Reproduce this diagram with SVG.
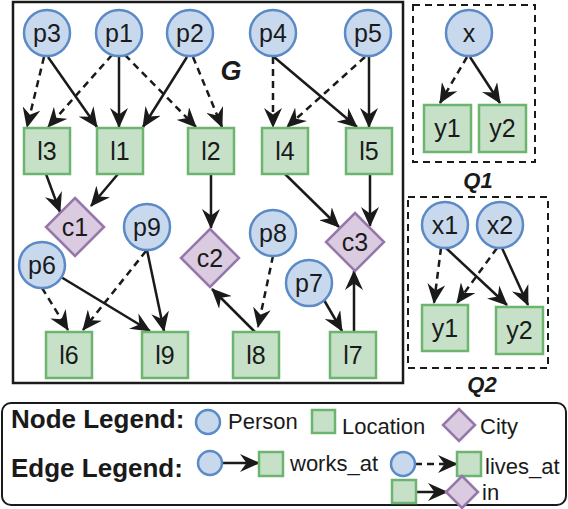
<svg xmlns="http://www.w3.org/2000/svg" width="568" height="509" viewBox="0 0 568 509">
<style>
.per{fill:#c8d9ee;stroke:#5b8ac6;stroke-width:2.5}
.loc{fill:#c6e1c8;stroke:#6db56f;stroke-width:2.5}
.city{fill:#dacbe0;stroke:#9677aa;stroke-width:2.5}
.lbl{font-family:"Liberation Sans",Arial,Helvetica,sans-serif;font-size:25px;fill:#1a1a1a;text-anchor:middle}
.ttl{font-family:"Liberation Sans",Arial,Helvetica,sans-serif;font-weight:bold;font-style:italic;fill:#1a1a1a;text-anchor:middle}
.leg{font-family:"Liberation Sans",Arial,Helvetica,sans-serif;font-size:22px;fill:#1a1a1a}
.legb{font-family:"Liberation Sans",Arial,Helvetica,sans-serif;font-size:26px;font-weight:bold;fill:#1a1a1a}
.s{stroke:#1a1a1a;stroke-width:2.5;fill:none;marker-end:url(#ah)}
.d{stroke:#1a1a1a;stroke-width:2.5;fill:none;stroke-dasharray:7 5;marker-end:url(#ah)}
.box{fill:none;stroke:#1a1a1a;stroke-width:2.5}
.qbox{fill:none;stroke:#1a1a1a;stroke-width:2;stroke-dasharray:7 5}
</style>
<defs>
<marker id="ah" viewBox="0 0 20 18" markerWidth="20" markerHeight="18" refX="19" refY="9" orient="auto" markerUnits="userSpaceOnUse">
<path d="M0,0 L20,9 L0,18 L6.5,9 Z" fill="#1a1a1a"/>
</marker>
</defs>
<rect width="568" height="509" fill="#ffffff"/>

<!-- frames -->
<rect class="box" x="13" y="2" width="390" height="381"/>
<text class="ttl" x="231" y="80" font-size="27">G</text>
<rect class="qbox" x="413" y="5" width="122" height="157"/>
<text class="ttl" x="478" y="188" font-size="22">Q1</text>
<rect class="qbox" x="408" y="197" width="140" height="171"/>
<text class="ttl" x="482" y="392" font-size="22">Q2</text>

<g id="connectors">
<line class="d" x1="44" y1="57" x2="27" y2="127"/>
<line class="s" x1="48" y1="57" x2="97" y2="127"/>
<line class="d" x1="112" y1="55" x2="48" y2="127"/>
<line class="s" x1="119" y1="57" x2="119" y2="127"/>
<line class="d" x1="125" y1="55" x2="196" y2="127"/>
<line class="s" x1="187" y1="57" x2="143" y2="127"/>
<line class="d" x1="193" y1="57" x2="222" y2="127"/>
<line class="d" x1="273" y1="57" x2="273" y2="127"/>
<line class="s" x1="274" y1="57" x2="357" y2="127"/>
<line class="d" x1="365" y1="57" x2="287" y2="127"/>
<line class="s" x1="369" y1="57" x2="369" y2="127"/>
<line class="s" x1="46" y1="174" x2="60" y2="212"/>
<line class="s" x1="118" y1="174" x2="91" y2="206"/>
<line class="s" x1="211" y1="174" x2="211" y2="228"/>
<line class="s" x1="285" y1="174" x2="339" y2="227"/>
<line class="s" x1="370" y1="174" x2="370" y2="226"/>
<line class="d" x1="42" y1="288" x2="68" y2="330"/>
<line class="s" x1="61" y1="277" x2="150" y2="331"/>
<line class="d" x1="146" y1="251" x2="83" y2="330"/>
<line class="s" x1="147" y1="250" x2="164" y2="331"/>
<line class="d" x1="273" y1="256" x2="258" y2="327"/>
<line class="s" x1="255" y1="332" x2="212" y2="289"/>
<line class="s" x1="324" y1="300" x2="342" y2="331"/>
<line class="s" x1="354" y1="332" x2="354" y2="271"/>
<line class="d" x1="467" y1="57" x2="440" y2="103"/>
<line class="s" x1="470" y1="57" x2="500" y2="103"/>
<line class="d" x1="441" y1="248" x2="434" y2="303"/>
<line class="s" x1="446" y1="248" x2="507" y2="305"/>
<line class="d" x1="497" y1="248" x2="457" y2="303"/>
<line class="s" x1="502" y1="248" x2="528" y2="305"/>
</g>

<!-- persons -->
<g id="p3"><circle class="per" cx="47" cy="33" r="23"/><text class="lbl" x="47" y="42">p3</text></g>
<g id="p1"><circle class="per" cx="119" cy="33" r="23"/><text class="lbl" x="119" y="42">p1</text></g>
<g id="p2"><circle class="per" cx="190" cy="33" r="23"/><text class="lbl" x="190" y="42">p2</text></g>
<g id="p4"><circle class="per" cx="273" cy="33" r="23"/><text class="lbl" x="273" y="42">p4</text></g>
<g id="p5"><circle class="per" cx="368" cy="33" r="23"/><text class="lbl" x="368" y="42">p5</text></g>
<g id="p9"><circle class="per" cx="147" cy="227" r="23"/><text class="lbl" x="147" y="236">p9</text></g>
<g id="p6"><circle class="per" cx="42" cy="265" r="23"/><text class="lbl" x="42" y="274">p6</text></g>
<g id="p8"><circle class="per" cx="273" cy="233" r="23"/><text class="lbl" x="273" y="242">p8</text></g>
<g id="p7"><circle class="per" cx="309" cy="283" r="23"/><text class="lbl" x="309" y="292">p7</text></g>

<!-- locations -->
<g id="l3"><rect class="loc" x="24" y="128" width="46" height="46"/><text class="lbl" x="47" y="160">l3</text></g>
<g id="l1"><rect class="loc" x="97" y="128" width="46" height="46"/><text class="lbl" x="120" y="160">l1</text></g>
<g id="l2"><rect class="loc" x="188" y="128" width="46" height="46"/><text class="lbl" x="211" y="160">l2</text></g>
<g id="l4"><rect class="loc" x="262" y="128" width="46" height="46"/><text class="lbl" x="285" y="160">l4</text></g>
<g id="l5"><rect class="loc" x="346" y="128" width="46" height="46"/><text class="lbl" x="369" y="160">l5</text></g>
<g id="l6"><rect class="loc" x="46" y="332" width="46" height="46"/><text class="lbl" x="69" y="364">l6</text></g>
<g id="l9"><rect class="loc" x="142" y="332" width="46" height="46"/><text class="lbl" x="165" y="364">l9</text></g>
<g id="l8"><rect class="loc" x="233" y="332" width="46" height="46"/><text class="lbl" x="256" y="364">l8</text></g>
<g id="l7"><rect class="loc" x="330" y="332" width="46" height="46"/><text class="lbl" x="353" y="364">l7</text></g>

<!-- cities -->
<g id="c1"><polygon class="city" points="75,198 104,227 75,256 46,227"/><text class="lbl" x="75" y="236">c1</text></g>
<g id="c2"><polygon class="city" points="210,229 239,258 210,287 181,258"/><text class="lbl" x="210" y="267">c2</text></g>
<g id="c3"><polygon class="city" points="355,213 384,242 355,271 326,242"/><text class="lbl" x="355" y="251">c3</text></g>

<!-- Q1 -->
<g id="q1x"><circle class="per" cx="469" cy="33" r="23"/><text class="lbl" x="469" y="42">x</text></g>
<g id="q1y1"><rect class="loc" x="424" y="105" width="47" height="47"/><text class="lbl" x="447.5" y="137">y1</text></g>
<g id="q1y2"><rect class="loc" x="479" y="105" width="47" height="47"/><text class="lbl" x="502.5" y="137">y2</text></g>

<!-- Q2 -->
<g id="q2x1"><circle class="per" cx="445" cy="225" r="23"/><text class="lbl" x="445" y="234">x1</text></g>
<g id="q2x2"><circle class="per" cx="500" cy="225" r="23"/><text class="lbl" x="500" y="234">x2</text></g>
<g id="q2y1"><rect class="loc" x="422" y="305" width="46" height="46"/><text class="lbl" x="445" y="337">y1</text></g>
<g id="q2y2"><rect class="loc" x="496" y="307" width="47" height="47"/><text class="lbl" x="519.5" y="339">y2</text></g>

<!-- legend -->
<g id="legend">
<rect x="2" y="403" width="564" height="102" rx="9" fill="none" stroke="#1a1a1a" stroke-width="2"/>
<text class="legb" x="11" y="428">Node Legend:</text>
<circle class="per" cx="208" cy="422" r="12"/>
<text class="leg" x="228" y="429">Person</text>
<rect class="loc" x="312" y="410" width="23" height="23"/>
<text class="leg" x="342" y="434">Location</text>
<polygon class="city" points="459,409 475,425 459,441 443,425"/>
<text class="leg" x="480" y="434">City</text>
<text class="legb" x="11" y="477">Edge Legend:</text>
<line class="s" x1="222" y1="463" x2="259" y2="463"/>
<circle class="per" cx="210" cy="463" r="12"/>
<rect class="loc" x="259" y="452" width="24" height="24"/>
<text class="leg" x="290" y="471">works_at</text>
<line class="d" x1="415" y1="464" x2="457" y2="464"/>
<circle class="per" cx="403" cy="464" r="12"/>
<rect class="loc" x="457" y="452" width="24" height="24"/>
<text class="leg" x="485" y="474">lives_at</text>
<line class="s" x1="416" y1="492" x2="447" y2="492"/>
<rect class="loc" x="392" y="480" width="24" height="23"/>
<polygon class="city" points="462,476 478,492 462,508 446,492"/>
<text class="leg" x="482" y="500">in</text>
</g>
</svg>
